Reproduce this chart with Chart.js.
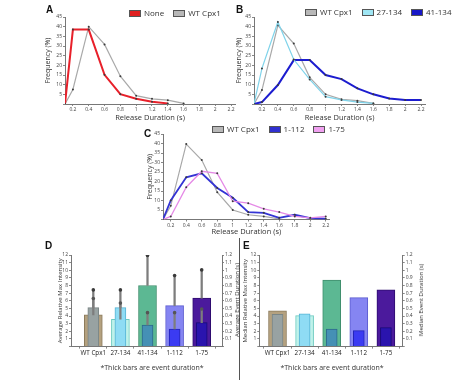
<!DOCTYPE html>
<html>
<head>
<meta charset="utf-8">
<script src="https://cdn.jsdelivr.net/npm/chart.js@4"></script>
<style>
  body { margin: 0; background: #fff; font-family: 'Open Sans', sans-serif; }
  #fig { position: relative; width: 474px; height: 387px; overflow: hidden; }
  canvas { position: absolute; }
  .lt { position: absolute; font: bold 10px 'Liberation Sans', Arial, sans-serif; color: #111; }
  .leg { position: absolute; font-size: 8px; color: #333; white-space: nowrap; line-height: 10px; }
  .sw { display: inline-block; width: 10px; height: 5px; border: 1px solid #555; margin: 0 3px 0 0; vertical-align: -1px; }
  .note { position: absolute; font-size: 7px; color: #333; white-space: nowrap; transform: translateX(-50%); }
  .rt { position: absolute; font-size: 6px; color: #333; white-space: nowrap; transform: translate(-50%, -50%) rotate(-90deg); }
  .div { position: absolute; left: 239px; top: 238px; width: 1px; height: 142px; background: #555; }
</style>
</head>
<body>
<div id="fig">
  <canvas id="cA" width="240" height="122" style="left:0;top:0"></canvas>
  <canvas id="cB" width="202" height="122" style="left:228px;top:0"></canvas>
  <canvas id="cC" width="215" height="116" style="left:120px;top:120px"></canvas>
  <canvas id="cD" width="240" height="125" style="left:0;top:240px"></canvas>
  <canvas id="cE" width="186" height="125" style="left:240px;top:240px"></canvas>
  <div class="lt" style="left:46px;top:4px">A</div>
  <div class="lt" style="left:236px;top:4px">B</div>
  <div class="lt" style="left:144px;top:128px">C</div>
  <div class="lt" style="left:45px;top:240px">D</div>
  <div class="lt" style="left:243px;top:240px">E</div>
  <div class="div"></div>
  <div class="leg" id="legA" style="left:129px;top:8px"></div>
  <div class="leg" id="legB" style="left:305px;top:7px"></div>
  <div class="leg" id="legC" style="left:212px;top:124px"></div>
  <div class="rt" style="left:236.5px;top:300px">Average Event Duration (s)</div>
  <div class="rt" style="left:421px;top:300px">Median Event Duration (s)</div>
  <div class="note" style="left:152px;top:363px">*Thick bars are event duration*</div>
  <div class="note" style="left:332px;top:363px">*Thick bars are event duration*</div>
</div>
<script>
// release duration bins (s) and tick labels for panels A-C
const BINS = [0.1, 0.2, 0.4, 0.6, 0.8, 1.0, 1.2, 1.4, 1.6, 1.8, 2.0, 2.2];
const X_TICKS = [0.2, 0.4, 0.6, 0.8, 1.0, 1.2, 1.4, 1.6, 1.8, 2.0, 2.2];
const X_TICK_LABELS = ['0.2','0.4','0.6','0.8','1','1.2','1.4','1.6','1.8','2','2.2'];

// frequency (%) per bin
const A_NONE   = [0, 38.5, 38.5, 15.1, 5.1, 2.7, 1.2, 0.3];
const A_WT     = [0, 7.5, 40, 30.8, 14.4, 4.3, 2.7, 2.0, 0.3];
const B_WT     = [0, 7.2, 40.7, 31.3, 13.8, 5.0, 2.4, 1.7, 0.3];
const B_27_134 = [0, 18.4, 42.4, 23, 12.7, 3.8, 2.1, 1.0, 0.3];
const B_41_134 = [0, 1.0, 9.8, 22.7, 22.7, 15, 12.9, 8.1, 5.0, 2.9, 2.1, 2.1];
const C_WT     = [0, 7.2, 39.7, 31.3, 14.4, 5.0, 2.5, 1.6, 0.3];
const C_1_112  = [0, 10, 22.2, 24.3, 16.6, 11.4, 3.9, 3.5, 0.9, 2.5, 0.7, 0.4];
const C_1_75   = [0, 1.6, 17, 25.4, 24.3, 9.6, 8.6, 5.6, 3.9, 1.6, 0.9, 1.6];

// panels D/E
const CATS = ['WT Cpx1', '27-134', '41-134', '1-112', '1-75'];
const D_DUR     = [0.415, 0.358, 0.80, 0.537, 0.634];   // thick bars, s
const D_DUR_ERR = [0.743, 0.743, 1.193, 0.93, 1.005];
const D_INT     = [5.1, 5.1, 2.83, 2.31, 3.14];         // thin bars
const D_INT_ERR = [6.3, 5.7, 4.45, 4.45, 4.93];
const E_DUR     = [0.467, 0.406, 0.87, 0.642, 0.743];
const E_INT     = [4.24, 4.28, 2.31, 2.09, 2.48];

const WIDE_BG  = ['#b4a17f', '#bff2ea', '#5cb893', '#8585f2', '#4b1a9c'];
const WIDE_BD  = ['#8c7b5c', '#6ccbc0', '#3f8e6c', '#5c5cd0', '#2e0c6e'];
const THIN_BG  = ['#98a2a2', '#8fdcf4', '#4590b5', '#3b3bf2', '#2a14ae'];
const THIN_BD  = ['#7a8585', '#56b4d4', '#2c6a8a', '#2424b8', '#180a78'];

const FONT = "'Open Sans', sans-serif";
Chart.defaults.font.family = FONT;

function legend(id, items) {
  document.getElementById(id).innerHTML = items.map(it =>
    `<span style="margin-right:9px"><span class="sw" style="background:${it[1]}"></span>${it[0]}</span>`).join('');
}

function lineChart(id, series, g) {
  new Chart(document.getElementById(id), {
    type: 'line',
    data: {
      datasets: series.map(s => ({
        label: s.name,
        data: s.vals.map((v, i) => ({ x: BINS[i], y: v })),
        borderColor: s.color,
        borderWidth: s.width,
        pointRadius: 1,
        pointBackgroundColor: '#3a3a3a',
        pointBorderWidth: 0,
        tension: 0,
        order: s.order || 0,
      }))
    },
    options: {
      animation: false, responsive: false, events: [],
      layout: { padding: { left: g.padL, top: g.padT, right: g.padR, bottom: 0 } },
      plugins: { legend: { display: false }, tooltip: { enabled: false } },
      scales: {
        x: {
          type: 'linear', min: 0.1, max: 2.25,
          afterBuildTicks: s => { s.ticks = X_TICKS.map(v => ({ value: v })); },
          afterFit: s => { s.height = g.xH; },
          grid: { drawOnChartArea: false, tickLength: 2, color: '#888' },
          border: { color: '#777' },
          ticks: { font: { size: 5 }, color: '#444', padding: 1, maxRotation: 0, autoSkip: false,
                   callback: (v, i) => X_TICK_LABELS[i] },
          title: { display: true, text: 'Release Duration (s)', font: { size: 7.5 }, color: '#333', padding: 0 }
        },
        y: {
          min: 0, max: 45,
          afterFit: s => { s.width = g.yW; },
          grid: { drawOnChartArea: false, tickLength: 2, color: '#888' },
          border: { color: '#777' },
          ticks: { stepSize: 5, font: { size: 5 }, color: '#444', padding: 1, autoSkip: false,
                   callback: v => v === 0 ? '' : v },
          title: { display: true, text: 'Frequency (%)', font: { size: 7 }, color: '#333', padding: 0 }
        }
      }
    }
  });
}

function barChart(id, dur, durErr, inten, intErr, title, g) {
  const pts = arr => arr.map((v, i) => ({ x: i + 1, y: v }));
  const ds = [
    { type: 'bar', data: pts(dur), yAxisID: 'y1', backgroundColor: WIDE_BG, borderColor: WIDE_BD,
      borderWidth: 1, barThickness: 18, grouped: false, order: 5 },
    { type: 'bar', data: pts(inten), yAxisID: 'y', backgroundColor: THIN_BG, borderColor: THIN_BD,
      borderWidth: 1, barThickness: 11, grouped: false, order: 4 },
  ];
  if (durErr) {
    ds.push(
      { type: 'bar', data: dur.map((v, i) => ({ x: i + 1, y: [v, durErr[i]] })), yAxisID: 'y1',
        backgroundColor: '#7d7d7d', barThickness: 1.6, grouped: false, order: 3 },
      { type: 'bar', data: inten.map((v, i) => ({ x: i + 1, y: [v, intErr[i]] })), yAxisID: 'y',
        backgroundColor: '#7d7d7d', barThickness: 1.6, grouped: false, order: 3 },
      { type: 'line', data: pts(durErr), yAxisID: 'y1', showLine: false, pointRadius: 1.8,
        pointBackgroundColor: '#3a3a3a', pointBorderWidth: 0, order: 1 },
      { type: 'line', data: pts(intErr), yAxisID: 'y', showLine: false, pointRadius: 1.8,
        pointBackgroundColor: '#555', pointBorderWidth: 0, order: 1 }
    );
  }
  new Chart(document.getElementById(id), {
    type: 'bar',
    data: { datasets: ds },
    options: {
      animation: false, responsive: false, events: [],
      layout: { padding: { left: g.padL, top: g.padT, right: g.padR, bottom: 0 } },
      plugins: { legend: { display: false }, tooltip: { enabled: false } },
      scales: {
        x: {
          type: 'linear', min: g.xMin, max: g.xMax, offset: false,
          afterBuildTicks: s => { s.ticks = CATS.map((c, i) => ({ value: i + 1 })); },
          afterFit: s => { s.height = g.xH; },
          grid: { drawOnChartArea: false, tickLength: 2, color: '#888' },
          border: { color: '#777' },
          ticks: { font: { size: 6.3 }, color: '#222', padding: 1, maxRotation: 0, autoSkip: false,
                   callback: (v, i) => CATS[i] }
        },
        y: {
          min: 0, max: 12, position: 'left',
          afterFit: s => { s.width = g.yW; },
          grid: { drawOnChartArea: false, tickLength: 2, color: '#888' },
          border: { color: '#777' },
          ticks: { stepSize: 1, font: { size: 5 }, color: '#444', padding: 1, autoSkip: false,
                   callback: v => v === 0 ? '' : v },
          title: { display: true, text: title, font: { size: 6 }, color: '#333', padding: 0 }
        },
        y1: {
          min: 0, max: 1.2, position: 'right',
          afterFit: s => { s.width = g.y1W; },
          grid: { drawOnChartArea: false, tickLength: 2, color: '#888' },
          border: { color: '#777' },
          ticks: { stepSize: 0.1, font: { size: 5 }, color: '#444', padding: 1, autoSkip: false,
                   callback: v => v === 0 ? '' : +v.toFixed(1) }
        }
      }
    }
  });
}

lineChart('cA', [
  { name: 'WT Cpx1', vals: A_WT, color: '#a9a9a9', width: 1.2, order: 1 },
  { name: 'None', vals: A_NONE, color: '#e8202a', width: 2 },
], { padL: 44, yW: 21, padT: 17, padR: 5, xH: 18 });

lineChart('cB', [
  { name: 'WT Cpx1', vals: B_WT, color: '#a9a9a9', width: 1.2, order: 1 },
  { name: '27-134', vals: B_27_134, color: '#7fd3ea', width: 1.2 },
  { name: '41-134', vals: B_41_134, color: '#1c1ccf', width: 2 },
], { padL: 7, yW: 19, padT: 17, padR: 5, xH: 18 });

lineChart('cC', [
  { name: 'WT Cpx1', vals: C_WT, color: '#a9a9a9', width: 1.2, order: 1 },
  { name: '1-75', vals: C_1_75, color: '#e58ae6', width: 1.3 },
  { name: '1-112', vals: C_1_112, color: '#3434d4', width: 1.8 },
], { padL: 26, yW: 17, padT: 14, padR: 5.4, xH: 16.5 });

barChart('cD', D_DUR, D_DUR_ERR, D_INT, D_INT_ERR, 'Average Relative Max Intensity',
  { padL: 57, yW: 14, y1W: 15, padR: 3, padT: 15, xH: 18.4, xMin: 0.177, xMax: 5.749 });

barChart('cE', E_DUR, null, E_INT, null, 'Median Relative Max Intensity',
  { padL: 2, yW: 17.3, y1W: 21.3, padR: 2, padT: 15, xH: 18.4, xMin: 0.328, xMax: 5.62 });

legend('legA', [['None', '#e02020'], ['WT Cpx1', '#b8b8b8']]);
legend('legB', [['WT Cpx1', '#b8b8b8'], ['27-134', '#9fe6f4'], ['41-134', '#1818c8']]);
legend('legC', [['WT Cpx1', '#b8b8b8'], ['1-112', '#3030d0'], ['1-75', '#f0a0f0']]);
</script>
</body>
</html>
